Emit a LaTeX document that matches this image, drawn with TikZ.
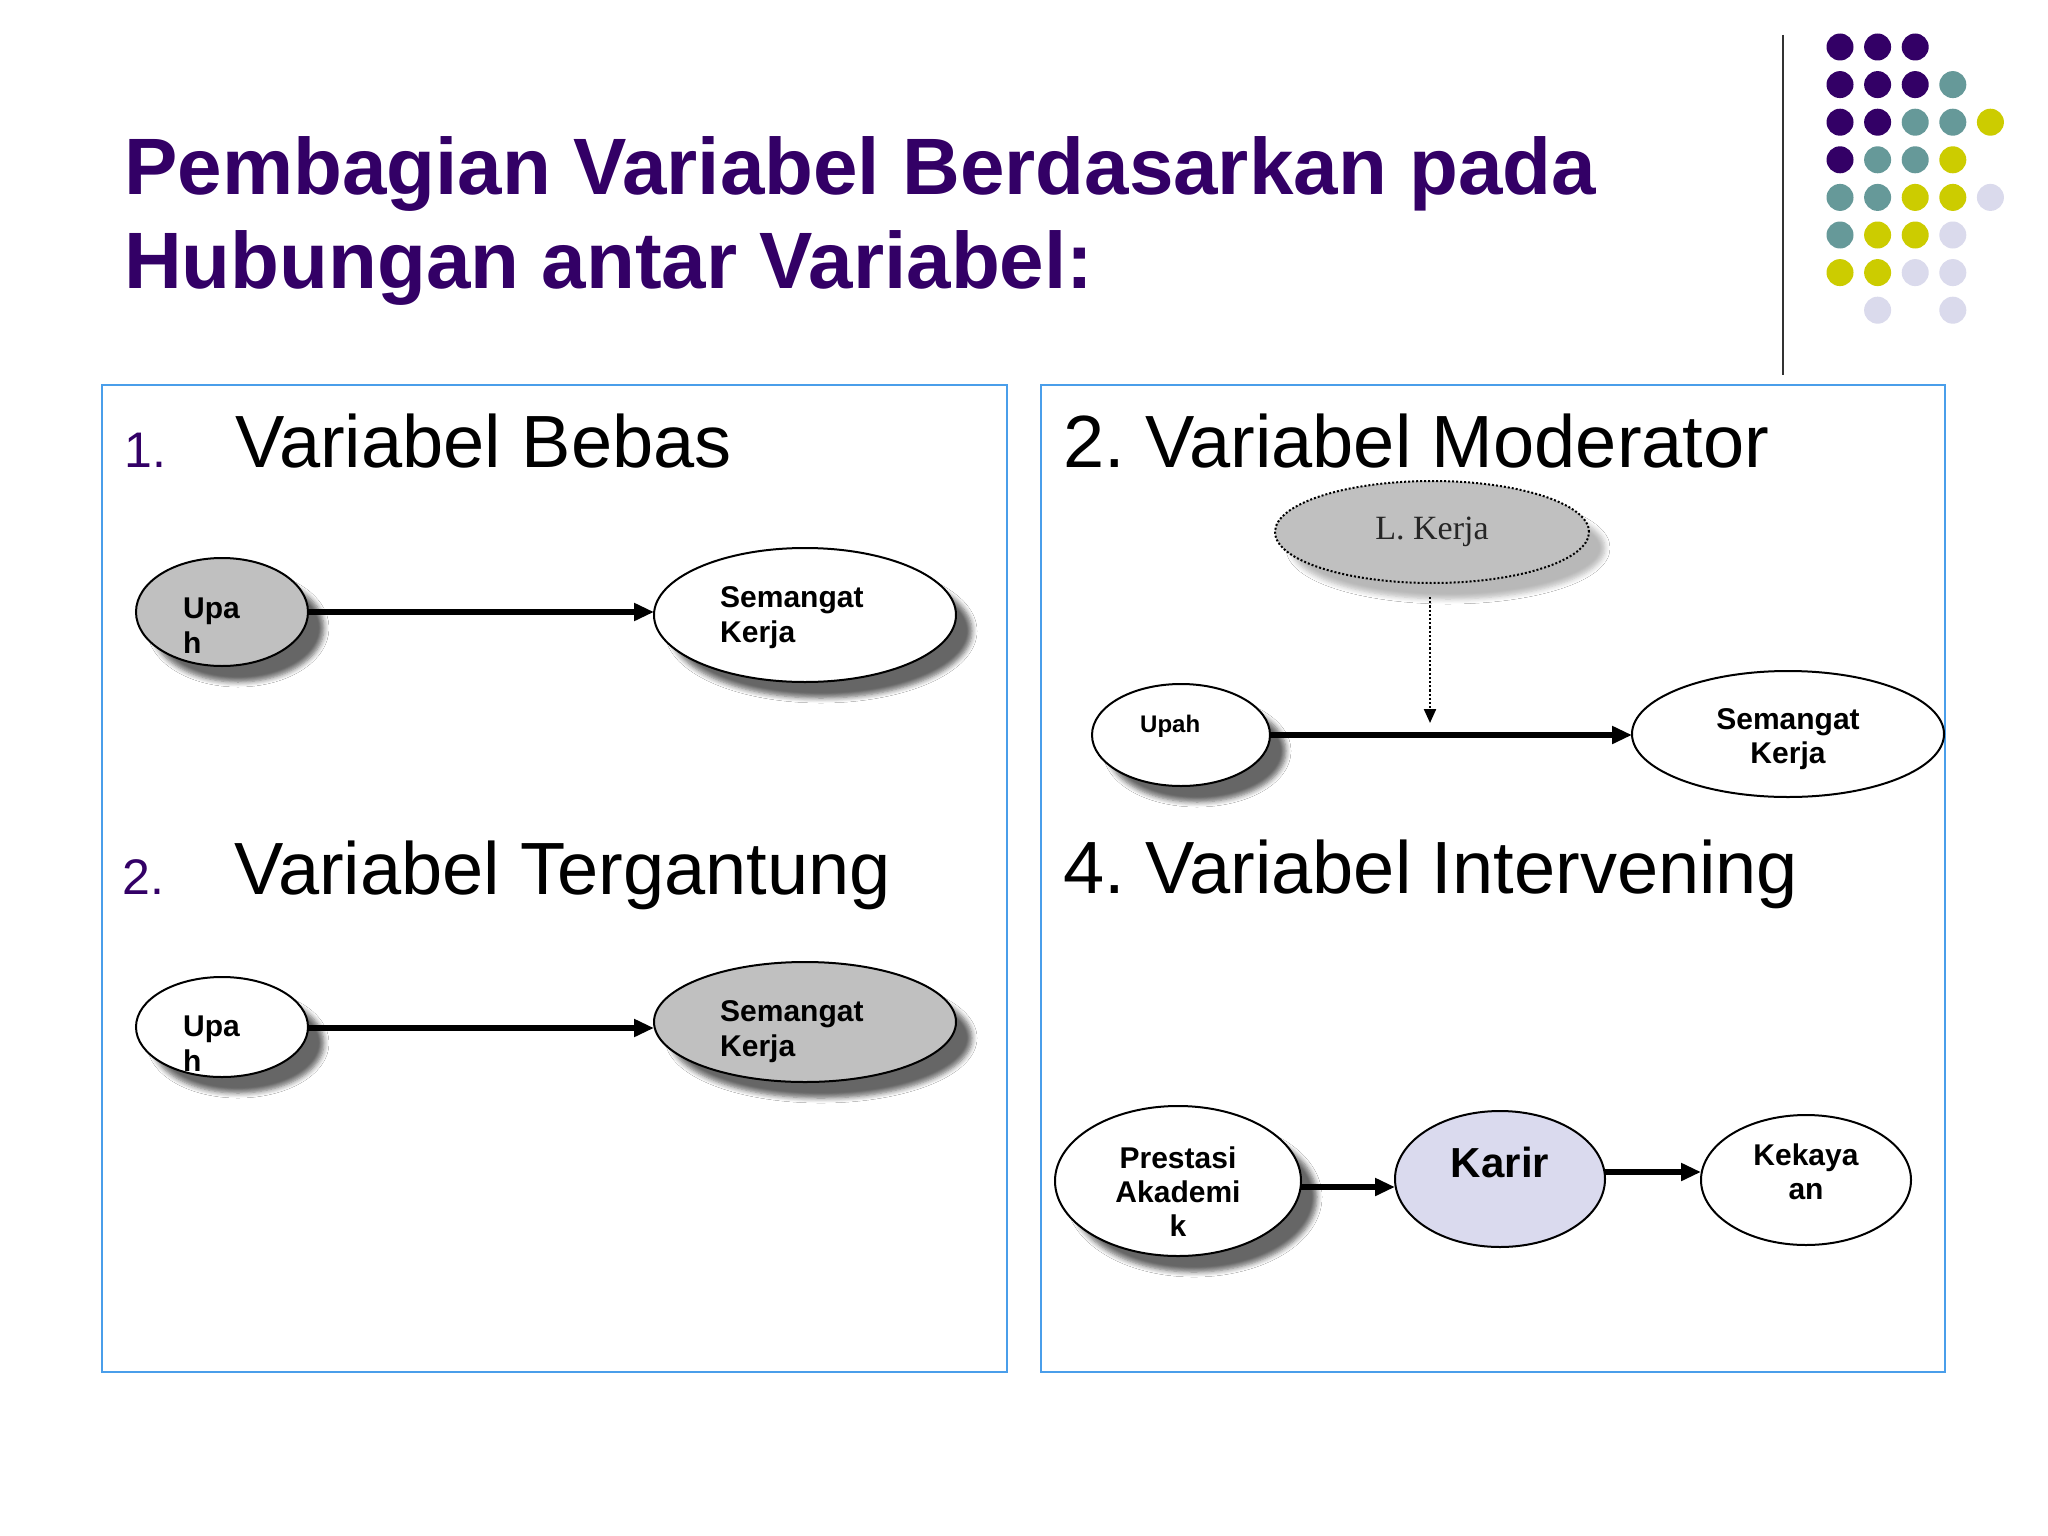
\documentclass[tikz,border=0pt]{standalone}
\usepackage{fontspec}
\setmainfont{Liberation Sans}
\newfontfamily\serifL{Liberation Serif}
\usetikzlibrary{shapes.geometric,arrows.meta,shadows.blur}
\definecolor{tpurple}{RGB}{51,0,102}
\definecolor{dP}{RGB}{51,0,102}
\definecolor{dT}{RGB}{102,153,153}
\definecolor{dY}{RGB}{204,204,0}
\definecolor{dL}{RGB}{218,218,236}
\definecolor{boxblue}{RGB}{74,158,234}
\definecolor{ngray}{RGB}{192,192,192}
\definecolor{karirfill}{RGB}{218,218,238}
\frenchspacing
\begin{document}
\begin{tikzpicture}[x=1pt,y=-1pt,
  ell/.style={ellipse, draw=black, line width=2, inner sep=0, outer sep=0, fill=white},
  shd/.style={blur shadow={shadow xshift=16pt, shadow yshift=-16pt, shadow blur radius=5pt, shadow blur steps=6, shadow opacity=60}},
  shdl/.style={blur shadow={shadow xshift=16pt, shadow yshift=-16pt, shadow blur radius=5pt, shadow blur steps=6, shadow opacity=28}},
  arr/.style={line width=5.5, -{Triangle[length=20pt,width=17pt]}},
  headtxt/.style={font=\fontsize{74}{80}\selectfont, anchor=base west, inner sep=0},
  numtxt/.style={font=\fontsize{50}{56}\selectfont, text=tpurple, anchor=base west, inner sep=0},
  titletxt/.style={font=\fontsize{80}{94}\selectfont\bfseries, text=tpurple, anchor=base west, inner sep=0},
  lblL/.style={font=\fontsize{30}{35}\selectfont\bfseries, inner sep=0, anchor=base west, text width=150, align=left},
  lblC/.style={font=\fontsize{30}{34}\selectfont\bfseries, inner sep=0, anchor=base, text width=220, align=center},
  boxline/.style={draw=boxblue, line width=2.5}
]
\useasboundingbox (0,0) rectangle (2048,1536);
\fill[white] (0,0) rectangle (2048,1536);

% title
\node[titletxt] (title1) at (124,194) {Pembagian Variabel Berdasarkan pada};
\node[titletxt] (title2) at (124,288) {Hubungan antar Variabel:};

% decoration
\draw[line width=2.5, black!80] (1783,35) -- (1783,375);
\foreach \c/\r/\col in {0/0/dP,1/0/dP,2/0/dP,
  0/1/dP,1/1/dP,2/1/dP,3/1/dT,
  0/2/dP,1/2/dP,2/2/dT,3/2/dT,4/2/dY,
  0/3/dP,1/3/dT,2/3/dT,3/3/dY,
  0/4/dT,1/4/dT,2/4/dY,3/4/dY,4/4/dL,
  0/5/dT,1/5/dY,2/5/dY,3/5/dL,
  0/6/dY,1/6/dY,2/6/dL,3/6/dL,
  1/7/dL,3/7/dL}
  \fill[\col] (1840+37.6*\c, 47+37.6*\r) circle[radius=13.5pt];

% panels
\draw[boxline] (102,385) rectangle (1007,1372);
\draw[boxline] (1041,385) rectangle (1945,1372);

% panel 1
\node[numtxt] (n1) at (124,467) {1.};
\node[headtxt] (h1) at (235,467) {Variabel Bebas};
\node[ell, shd, fill=ngray, minimum width=172, minimum height=108] (upA) at (222,612) {};
\node[lblL] (upAt) at (183,618) {Upa\\h};
\node[ell, shd, minimum width=302, minimum height=134] (semA) at (805,615) {};
\node[lblL] (semAt) at (720,607) {Semangat\\Kerja};
\draw[arr] (upA.east) -- (upA.east -| semA.west);

% panel 2
\node[numtxt] (n2) at (122,894) {2.};
\node[headtxt] (h2) at (234,894) {Variabel Tergantung};
\node[ell, shd, minimum width=172, minimum height=100] (upB) at (222,1027) {};
\node[lblL] (upBt) at (183,1036) {Upa\\h};
\node[ell, shd, fill=ngray, minimum width=302, minimum height=120] (semB) at (805,1022) {};
\node[lblL] (semBt) at (720,1021) {Semangat\\Kerja};
\coordinate (q1) at (308,1028);
\draw[arr] (q1) -- (q1 -| semB.west);

% panel 3 moderator
\node[headtxt] (h3) at (1063,467) {2. Variabel Moderator};
\node[ellipse, draw=black, dotted, line width=2, inner sep=0, fill=ngray, shdl, minimum width=314, minimum height=102] (lk) at (1432,532) {};
\node[font=\serifL\fontsize{34}{40}\selectfont, text=black!85, anchor=base, inner sep=0] (lkt) at (1432,539) {L. Kerja};
\node[ell, shd, minimum width=178, minimum height=102] (upC) at (1181,735) {};
\node[font=\fontsize{24}{28}\selectfont\bfseries, anchor=base west, inner sep=0] (upCt) at (1140,732) {Upah};
\node[ell, minimum width=312, minimum height=126] (semC) at (1788,734) {};
\node[lblC] (semCt) at (1788,729) {Semangat\\Kerja};
\draw[arr] (upC.east) -- (upC.east -| semC.west);
\coordinate (modtop) at (1430,597);
\coordinate (mod) at (1430,723);
\draw[dotted, line width=2.2, -{Triangle[length=14pt,width=12pt]}] (modtop) -- (mod);

% panel 4 intervening
\node[headtxt] (h4) at (1063,893) {4. Variabel Intervening};
\node[ell, shd, minimum width=246, minimum height=150] (pa) at (1178,1181) {};
\node[lblC] (pat) at (1178,1168) {Prestasi\\Akademi\\k};
\node[ell, fill=karirfill, minimum width=210, minimum height=136] (karir) at (1500,1179) {};
\node[font=\fontsize{42}{48}\selectfont\bfseries, anchor=base, inner sep=0] (karirt) at (1500,1177) {Karir};
\node[ell, minimum width=210, minimum height=130] (kek) at (1806,1180) {};
\node[lblC] (kekt) at (1806,1165) {Kekaya\\an};
\coordinate (p1) at (1300,1187);
\draw[arr] (p1) -- (p1 -| karir.west);
\coordinate (p2) at (1605,1172);
\draw[arr] (p2) -- (p2 -| kek.west);
\end{tikzpicture}
\end{document}
